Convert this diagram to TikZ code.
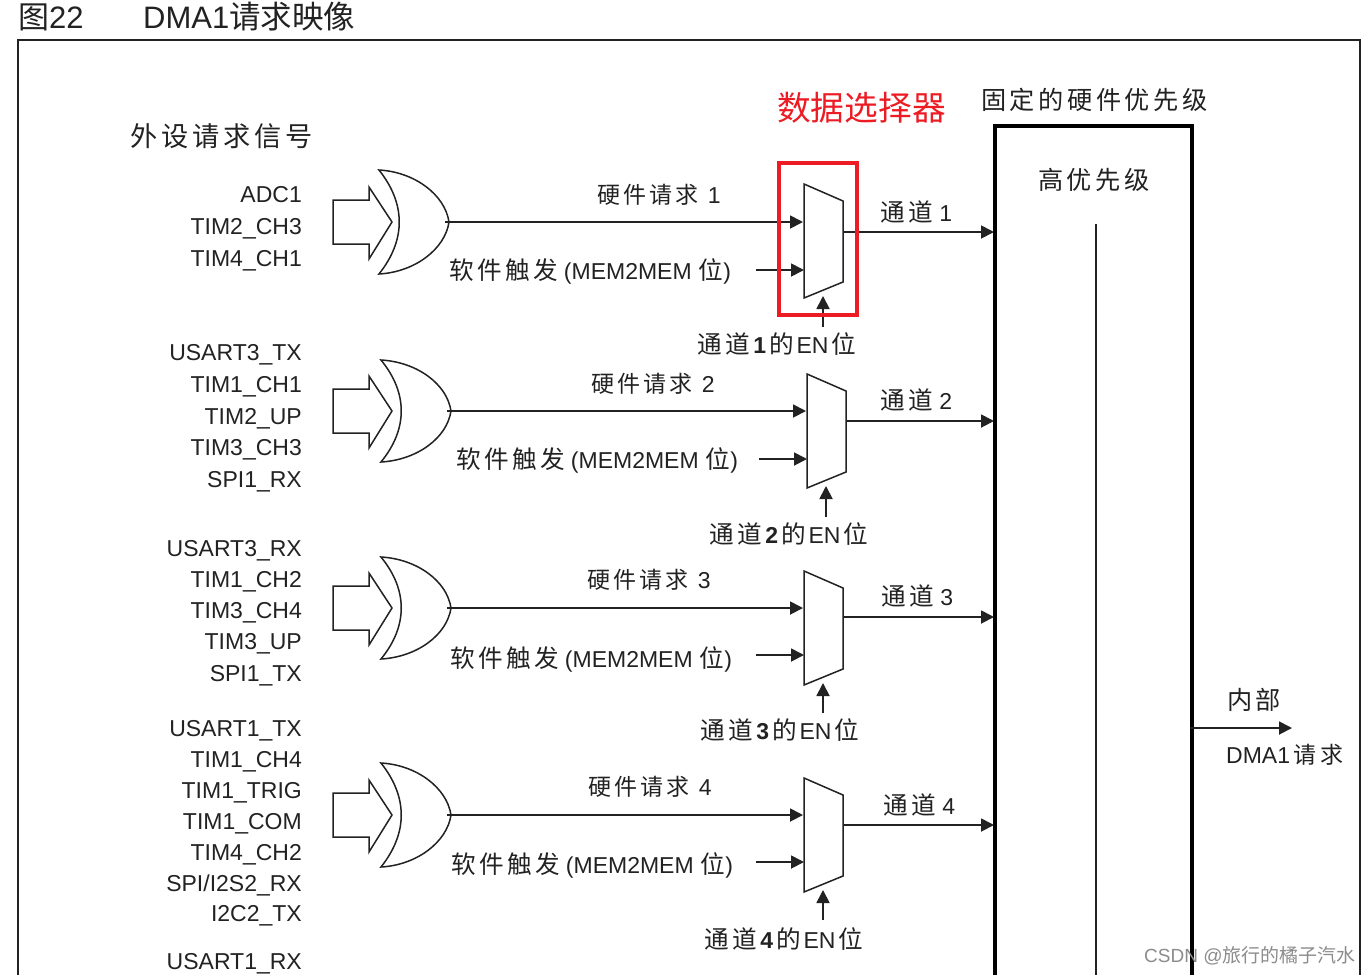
\documentclass[tikz,border=0pt]{standalone}
\usepackage{fontspec}
\setmainfont{Liberation Sans}
\newfontfamily\cjk[LetterSpace=14]{Noto Sans CJK SC}
\newfontfamily\cjks[LetterSpace=14,Scale=1.07]{Noto Sans CJK SC}
\newfontfamily\cjkn{Noto Sans CJK SC}
\usetikzlibrary{arrows.meta}
\definecolor{ink}{HTML}{222222}
\definecolor{redmark}{HTML}{ED1C24}
\tikzset{
  x=1pt,y=-1pt,
  wire/.style={line width=1.8pt,color=ink},
  arrowwire/.style={wire,-{Triangle[length=13pt,width=13pt]}},
  gate/.style={line width=1.5pt,color=ink,line join=miter,fill=white},
  txt/.style={inner sep=0pt,anchor=west,text=ink,font=\fontsize{23}{23}\selectfont},
  sig/.style={inner sep=0pt,anchor=base east,text=ink,font=\fontsize{23}{23}\selectfont},
}
% id, OR left tip x, y centre, half height, mux x, mux top, soft y, out y, EN start y
\newcommand{\Chan}[9]{%
  \draw[gate] (333,{#3-22}) -- (369,{#3-22}) -- (369,{#3-35}) -- (392,#3) -- (369,{#3+37}) -- (369,{#3+22}) -- (333,{#3+22}) -- cycle;
  \draw[gate,fill=none] ({#2},{#3-#4}) .. controls ({#2+36},{#3-#4+2}) and ({#2+66},{#3-27}) .. ({#2+70},#3)
     .. controls ({#2+66},{#3+27}) and ({#2+36},{#3+#4-2}) .. ({#2},{#3+#4})
     .. controls ({#2+27},{#3+18}) and ({#2+27},{#3-18}) .. cycle;
  \coordinate (or#1) at ({#2+66},#3);
  \draw[gate,fill=none] ({#5},{#6}) -- ({#5+39},{#6+17}) -- ({#5+39},{#6+98}) -- ({#5},{#6+114}) -- cycle;
  \coordinate (muxa#1) at ({#5-1},#3);
  \coordinate (muxb#1) at ({#5},#7);
  \coordinate (softs#1) at ({#5-48},#7);
  \coordinate (muxo#1) at ({#5+39},#8);
  \coordinate (boxin#1) at (994,#8);
  \coordinate (ens#1) at ({#5+19},#9);
  \coordinate (ene#1) at ({#5+19},{#6+112});
  \draw[arrowwire] (or#1) -- (muxa#1);
  \draw[arrowwire] (softs#1) -- (muxb#1);
  \draw[arrowwire] (muxo#1) -- (boxin#1);
  \draw[arrowwire] (ens#1) -- (ene#1);
}
\begin{document}
\begin{tikzpicture}
\useasboundingbox (0,0) rectangle (1370,975);
\fill[white] (0,0) rectangle (1370,975);
% frame
\coordinate (fa) at (18,975); \coordinate (fb) at (18,40); \coordinate (fc) at (1360,40); \coordinate (fd) at (1360,975);
\draw[line width=1.5pt,color=ink] (fa) -- (fb) -- (fc) -- (fd);
\node[txt,font=\fontsize{31}{31}\selectfont] (title1) at (18,17) {{\cjkn 图}22};
\node[txt,font=\fontsize{31}{31}\selectfont] (title2) at (143,17) {DMA1{\fontsize{31.5}{32}\selectfont\cjkn 请求映像}};
% priority box
\coordinate (pa) at (995,975); \coordinate (pb) at (995,126); \coordinate (pc) at (1192,126); \coordinate (pd) at (1192,975);
\draw[line width=3.5pt,color=black,line join=miter] (pa) -- (pb) -- (pc) -- (pd);
\coordinate (ca) at (1096,224); \coordinate (cb) at (1096,975);
\draw[line width=1.5pt,color=ink] (ca) -- (cb);
\Chan{1}{379}{222}{52}{804}{184}{270}{232}{327}
\Chan{2}{381}{411}{51}{807}{374}{459}{421}{517}
\Chan{3}{381}{608}{51}{804}{571}{655}{617}{713}
\Chan{4}{381}{815}{52}{804}{778}{862}{825}{920}
% red marker
\node[draw=redmark,line width=4pt,minimum width=78pt,minimum height=152pt,inner sep=0pt] (redbox) at (818,239) {};
\node[txt,text=redmark,font=\fontsize{33.7}{34}\selectfont] (redlab) at (777,108) {{\cjkn 数据选择器}};
% headers
\node[txt,font=\fontsize{27.2}{27}\selectfont] (h1) at (130,136) {{\cjk 外设请求信号}};
\node[txt,font=\fontsize{25.2}{25}\selectfont] (h2) at (981,100) {{\cjk 固定的硬件优先级}};
\node[txt,font=\fontsize{25.2}{25}\selectfont] (h3) at (1038,180) {{\cjk 高优先级}};
% signals
\foreach \n/\y/\t in {a1/194/ADC1,a2/226/TIM2\_CH3,a3/258/TIM4\_CH1,
  b1/352/USART3\_TX,b2/384/TIM1\_CH1,b3/416/TIM2\_UP,b4/447/TIM3\_CH3,b5/479/SPI1\_RX,
  c1/548/USART3\_RX,c2/579/TIM1\_CH2,c3/610/TIM3\_CH4,c4/641/TIM3\_UP,c5/673/SPI1\_TX,
  d1/728/USART1\_TX,d2/759/TIM1\_CH4,d3/790/TIM1\_TRIG,d4/821/TIM1\_COM,d5/852/TIM4\_CH2,d6/883/{SPI/I2S2\_RX},d7/913/I2C2\_TX,
  e1/961/USART1\_RX}
  \node[sig] (s\n) at (302,\y+8) {\t};
% labels on channels
\newcommand{\hw}[4]{\node[txt] (#1) at (#2,#3) {{\cjk 硬件请求}\hspace{9pt}#4};}
\hw{hw1}{597}{195}{1}
\hw{hw2}{591}{384}{2}
\hw{hw3}{587}{580}{3}
\hw{hw4}{588}{787}{4}
\newcommand{\sw}[3]{\node[txt] (#1) at (#2,#3) {{\cjks 软件触发}\hspace{6pt}(MEM2MEM\hspace{7pt}{\cjks 位})};}
\sw{sw1}{449}{271}
\sw{sw2}{456}{460}
\sw{sw3}{450}{659}
\sw{sw4}{451}{865}
\newcommand{\ch}[4]{\node[txt] (#1) at (#2,#3) {{\cjks 通道} #4};}
\ch{ch1}{880}{212}{1}
\ch{ch2}{880}{400}{2}
\ch{ch3}{881}{596}{3}
\ch{ch4}{883}{805}{4}
\newcommand{\en}[4]{\node[txt] (#1) at (#2,#3) {{\cjks 通道}\textbf{#4}\,{\cjks 的}\hspace{2pt}EN\hspace{3pt}{\cjks 位}};}
\en{en1}{697}{344}{1}
\en{en2}{709}{534}{2}
\en{en3}{700}{730}{3}
\en{en4}{704}{939}{4}
% output
\coordinate (outa) at (1190,728); \coordinate (outb) at (1292,728);
\draw[arrowwire] (outa) -- (outb);
\node[txt,font=\fontsize{25.2}{25}\selectfont] (int) at (1227,700) {{\cjk 内部}};
\node[txt] (dma) at (1226,755) {DMA1\,{\cjk 请求}};
% watermark
\node[txt,text=black!45,font=\fontsize{19}{20}\selectfont] (wm) at (1144,956) {CSDN @{\cjkn 旅行的橘子汽水}};
\end{tikzpicture}
\end{document}
